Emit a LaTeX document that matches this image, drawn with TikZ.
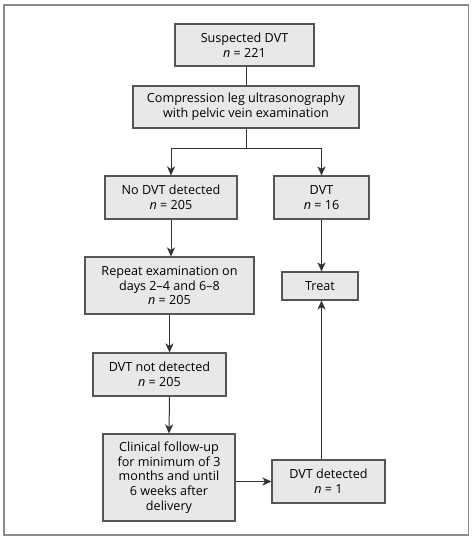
\documentclass[tikz,border=0pt]{standalone}
\usepackage{fontspec}
\setmainfont{Open Sans}
\usepackage{tikz}
\usetikzlibrary{calc,arrows.meta}
\usepackage{xcolor}
\definecolor{boxfill}{HTML}{E8E8E8}
\definecolor{boxline}{HTML}{555555}
\definecolor{frameline}{HTML}{8A8A8A}

\tikzset{
  flowbox/.style={draw=boxline, line width=1.1pt, fill=boxfill, align=center, inner sep=0pt,
    font=\fontsize{12.6}{14.8}\selectfont},
  flowline/.style={draw=black!80, line width=1pt},
  flowarrow/.style={flowline, -{Stealth[length=9pt,width=8pt,inset=2.5pt]}}
}

\begin{document}
\begin{tikzpicture}[x=1pt,y=-1pt]
\useasboundingbox (0,0) rectangle (474,541);
%draw outer frame
\draw[frameline, line width=1.6pt] (4,5) rectangle (468.5,535);

%draw boxes
\node[flowbox, minimum width=139pt, minimum height=42pt] (sus) at (244.5,45) {Suspected DVT\\\textit{n} = 221};
\node[flowbox, minimum width=226pt, minimum height=42pt] (comp) at (246,107) {Compression leg ultrasonography\\with pelvic vein examination};
\node[flowbox, minimum width=132pt, minimum height=43pt] (nodvt) at (171,197.5) {No DVT detected\\\textit{n} = 205};
\node[flowbox, minimum width=95pt, minimum height=43pt] (dvt) at (321.5,197.5) {DVT\\\textit{n} = 16};
\node[flowbox, minimum width=169pt, minimum height=57pt] (rep) at (169.5,285.5) {Repeat examination on\\days 2--4 and 6--8\\\textit{n} = 205};
\node[flowbox, minimum width=76pt, minimum height=28pt] (treat) at (320,286) {Treat};
\node[flowbox, minimum width=133pt, minimum height=43pt] (notdet) at (159.5,374.5) {DVT not detected\\\textit{n} = 205};
\node[flowbox, minimum width=132pt, minimum height=87pt] (clin) at (169,477.5) {Clinical follow-up\\for minimum of 3\\months and until\\6 weeks after\\delivery};
\node[flowbox, minimum width=113pt, minimum height=43pt] (det) at (328.5,481.5) {DVT detected\\\textit{n} = 1};

%draw connectors
\coordinate (split) at (246,148);
\draw[flowline] (sus.south -| comp.north) -- (comp.north);
\draw[flowline] (comp.south) -- (split);
\draw[flowarrow] (split) -| (nodvt.north);
\draw[flowarrow] (split) -| (dvt.north);
\draw[flowarrow] (nodvt.south) -- (nodvt.south |- rep.north);
\draw[flowarrow] (rep.south) -- (rep.south |- notdet.north);
\draw[flowarrow] (rep.south |- notdet.south) -- (clin.north);
\draw[flowarrow] (dvt.south) -- (dvt.south |- treat.north);
\draw[flowarrow] (det.north -| dvt.south) -- (treat.south -| dvt.south);
\draw[flowarrow] (clin.east |- det.west) -- (det.west);
\end{tikzpicture}
\end{document}
